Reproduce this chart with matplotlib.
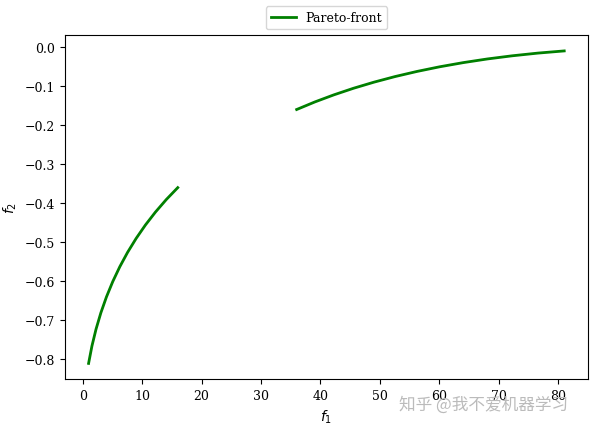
import matplotlib
matplotlib.use('Agg')
import matplotlib.pyplot as plt

plt.rcParams['font.family'] = 'DejaVu Serif'

# values, two pieces of the front
f1_a = [1, 1.5625, 2.25, 3.0625, 4, 5.0625, 6.25, 7.5625, 9, 10.5625, 12.25, 14.0625, 16]
f2_a = [-0.81, -0.7656, -0.7225, -0.6806, -0.64, -0.6006, -0.5625, -0.5256, -0.49, -0.4556,
        -0.4225, -0.3906, -0.36]
f1_b = [36, 39.0625, 42.25, 45.5625, 49, 52.5625, 56.25, 60.0625, 64, 68.0625, 72.25, 76.5625, 81]
f2_b = [-0.16, -0.1406, -0.1225, -0.1056, -0.09, -0.0756, -0.0625, -0.0506, -0.04, -0.0306,
        -0.0225, -0.0156, -0.01]

fig = plt.figure(figsize=(6, 4.27), dpi=100)
ax = fig.add_axes([0.108, 0.11, 0.872, 0.805])
ax.plot(f1_a, f2_a, color='green', lw=2, label='Pareto-front')
ax.plot(f1_b, f2_b, color='green', lw=2)
ax.set_xlabel('$f_1$')
ax.set_ylabel('$f_2$')
ax.set_xlim(-3.0, 85.0)
ax.set_ylim(-0.85, 0.03)
ax.tick_params(labelsize=9)
ax.legend(loc='lower center', bbox_to_anchor=(0.5, 1.0), fontsize=9)

fig.text(0.665, 0.04, '知乎 @我不爱机器学习', color='#bbbbbb', fontsize=12,
         family=['Noto Sans CJK SC', 'DejaVu Sans'])

fig.savefig('out.png')
